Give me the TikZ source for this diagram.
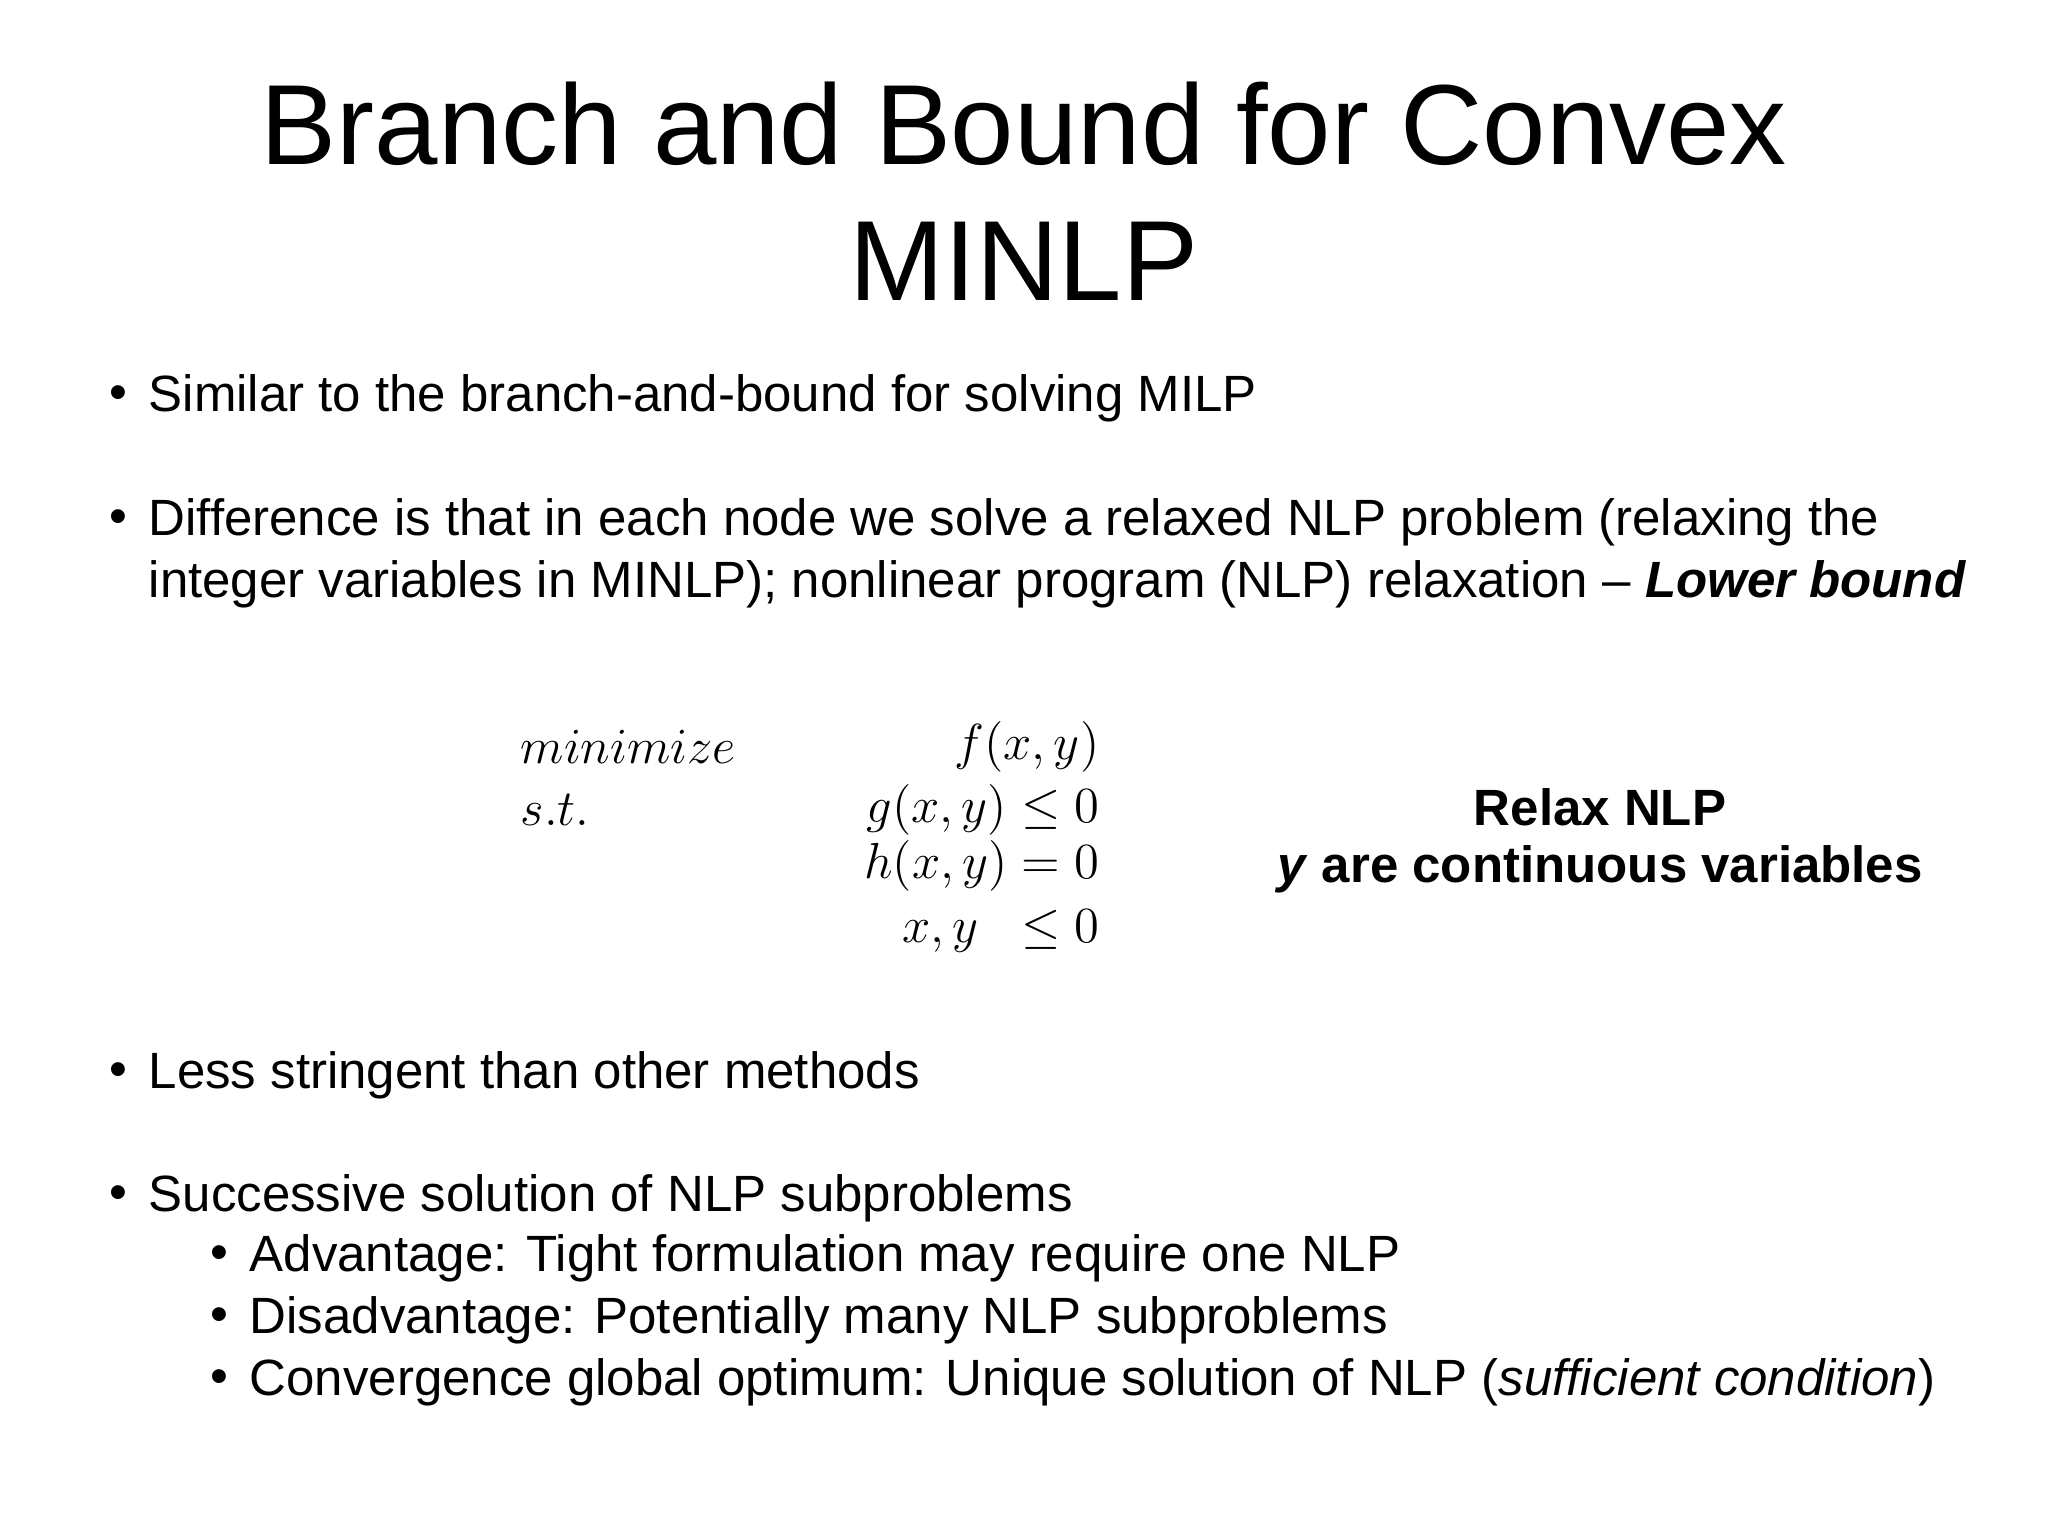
\documentclass[tikz,border=0pt]{standalone}
\usepackage{fontspec}
\setmainfont{Liberation Sans}
\begin{document}
\begin{tikzpicture}[x=0.01cm,y=-0.01cm,
  txt/.style={anchor=west,inner sep=0pt,font=\fontsize{14.5}{17}\selectfont},
  bul/.style={anchor=center,inner sep=0pt,font=\fontsize{14.5}{17}\selectfont},
  mth/.style={inner sep=0pt,font=\fontsize{14.5}{17}\selectfont}]
\useasboundingbox[fill=white] (0,0) rectangle (2048,1536);
\node[inner sep=0pt,font=\fontsize{32.4}{40}\selectfont] (t1) at (1024,124) {Branch and Bound for Convex};
\node[inner sep=0pt,font=\fontsize{32.4}{40}\selectfont] (t2) at (1024,261) {MINLP};
\node[bul] (b1) at (118,398) {•};
\node[txt] (l1) at (148,398) {Similar to the branch-and-bound for solving MILP};
\node[bul] (b2) at (118,522) {•};
\node[txt] (l2) at (148,522) {Difference is that in each node we solve a relaxed NLP problem (relaxing the};
\node[txt] (l2b) at (148,584) {integer variables in MINLP); nonlinear program (NLP) relaxation – \textbf{\textit{Lower bound}}};
\node[mth,anchor=west] (m1) at (520,747) {$minimize$};
\node[mth,anchor=west] (m2) at (520,810) {$s.t.$};
\node[mth,anchor=east] (e1) at (1100,747) {$f(x,y)$};
\node[mth,anchor=east] (e2) at (1100,810) {$g(x,y)\leq 0$};
\node[mth,anchor=east] (e3) at (1100,866) {$h(x,y)=0$};
\node[mth,anchor=east] (e4) at (1100,931) {$x,y\ \ \leq 0$};
\node[inner sep=0pt,font=\fontsize{14.5}{17}\selectfont\bfseries] (r1) at (1600,807) {Relax NLP};
\node[inner sep=0pt,font=\fontsize{14.5}{17}\selectfont\bfseries] (r2) at (1600,869) {\textit{y} are continuous variables};
\node[bul] (b3) at (118,1075) {•};
\node[txt] (l3) at (148,1075) {Less stringent than other methods};
\node[bul] (b4) at (118,1198) {•};
\node[txt] (l4) at (148,1198) {Successive solution of NLP subproblems};
\node[bul] (s1) at (219,1258) {•};
\node[txt] (k1) at (249,1258) {Advantage: Tight formulation may require one NLP};
\node[bul] (s2) at (219,1320) {•};
\node[txt] (k2) at (249,1320) {Disadvantage: Potentially many NLP subproblems};
\node[bul] (s3) at (219,1382) {•};
\node[txt] (k3) at (249,1382) {Convergence global optimum: Unique solution of NLP (\textit{sufficient condition})};
\end{tikzpicture}
\end{document}
